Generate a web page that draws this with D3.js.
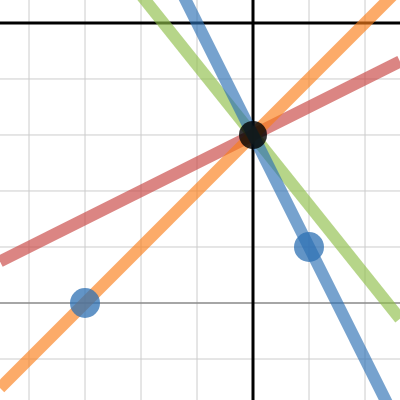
<!DOCTYPE html>
<html>
<head>
<script src="https://cdn.jsdelivr.net/npm/d3@7"></script>
<style>body{margin:0;background:#fff}</style>
</head>
<body>
<div id="chart"></div>
<script>
// lines as y = m*x + b
const lineNames = ['red', 'orange', 'green', 'blue'];
const slopes = [0.5, 1, -1.25, -2];
const intercepts = [-2, -2, -2, -2];
const lineColors = ['#c74440', '#fa7e19', '#8fbf4a', '#2d70b3'];
const pointX = [-3, 1];
const pointY = [-5, -4];
const gridX = [-4, -3, -2, -1, 1, 2];
const gridY = [-6, -5, -4, -3, -2, -1];

const width = 400, height = 400;
const x = d3.scaleLinear().domain([-4.518, 2.625]).range([0, width]);
const y = d3.scaleLinear().domain([0.41, -6.732]).range([0, height]);

const svg = d3.select('#chart').append('svg')
  .attr('width', width).attr('height', height);

svg.append('g').selectAll('line').data(gridX).join('line')
  .attr('x1', d => x(d)).attr('x2', d => x(d))
  .attr('y1', 0).attr('y2', height)
  .attr('stroke', '#ccc').attr('stroke-width', 1);
svg.append('g').selectAll('line').data(gridY).join('line')
  .attr('y1', d => y(d)).attr('y2', d => y(d))
  .attr('x1', 0).attr('x2', width)
  .attr('stroke', d => d === -5 ? '#888' : '#ccc').attr('stroke-width', d => d === -5 ? 1.5 : 1);

// axes
svg.append('line').attr('x1', x(0)).attr('x2', x(0)).attr('y1', 0).attr('y2', height)
  .attr('stroke', '#000').attr('stroke-width', 3);
svg.append('line').attr('y1', y(0)).attr('y2', y(0)).attr('x1', 0).attr('x2', width)
  .attr('stroke', '#000').attr('stroke-width', 3);

const [x0, x1] = x.domain();
svg.append('g').selectAll('line').data(lineNames).join('line')
  .attr('x1', x(x0)).attr('x2', x(x1))
  .attr('y1', (d, i) => y(slopes[i] * x0 + intercepts[i]))
  .attr('y2', (d, i) => y(slopes[i] * x1 + intercepts[i]))
  .attr('stroke', (d, i) => lineColors[i])
  .attr('stroke-width', 12)
  .attr('stroke-opacity', 0.65);

svg.append('g').selectAll('circle').data(pointX).join('circle')
  .attr('cx', d => x(d)).attr('cy', (d, i) => y(pointY[i]))
  .attr('r', 15).attr('fill', '#2d70b3').attr('fill-opacity', 0.75);

svg.append('circle').attr('cx', x(0)).attr('cy', y(-2)).attr('r', 14)
  .attr('fill', '#000').attr('fill-opacity', 0.8);
</script>
</body>
</html>
